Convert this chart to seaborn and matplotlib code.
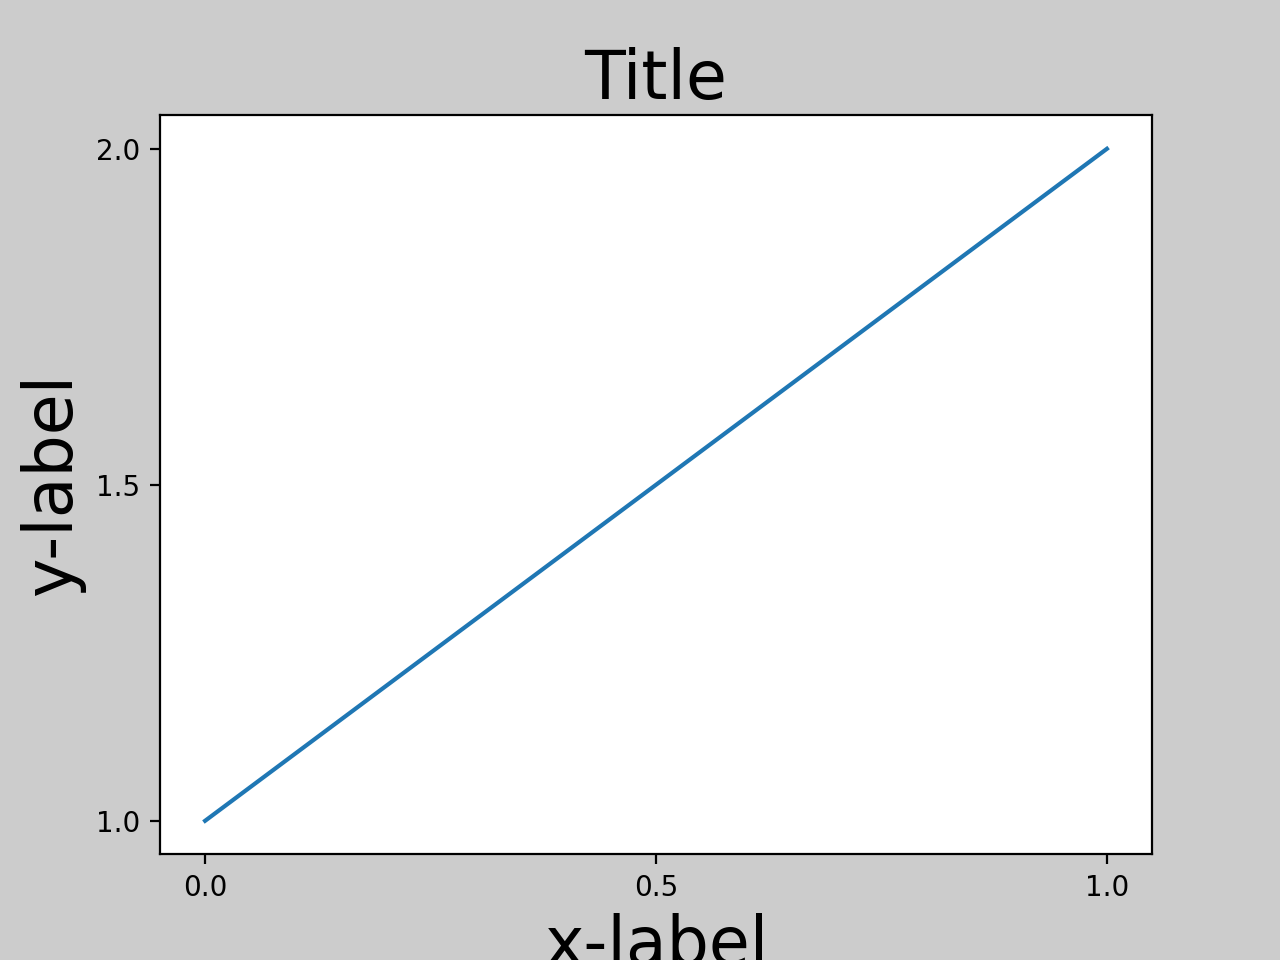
import matplotlib
matplotlib.use("Agg")
import matplotlib.pyplot as plt
import seaborn as sns
import pandas as pd

x_values = [0.0, 1.0]
y_values = [1.0, 2.0]
title_text = "Title"
x_label = "x-label"
y_label = "y-label"

df = pd.DataFrame({"x": x_values, "y": y_values})

fig = plt.figure(figsize=(6.4, 4.8), dpi=200, facecolor="0.8")
ax = fig.add_subplot(111)
sns.lineplot(data=df, x="x", y="y", ax=ax, color="#1f77b4", linewidth=1.5)
ax.locator_params(nbins=3)
ax.set_xlabel(x_label, fontsize=24)
ax.set_ylabel(y_label, fontsize=24)
ax.set_title(title_text, fontsize=24)
fig.savefig("out.png", dpi=200, facecolor=fig.get_facecolor())
